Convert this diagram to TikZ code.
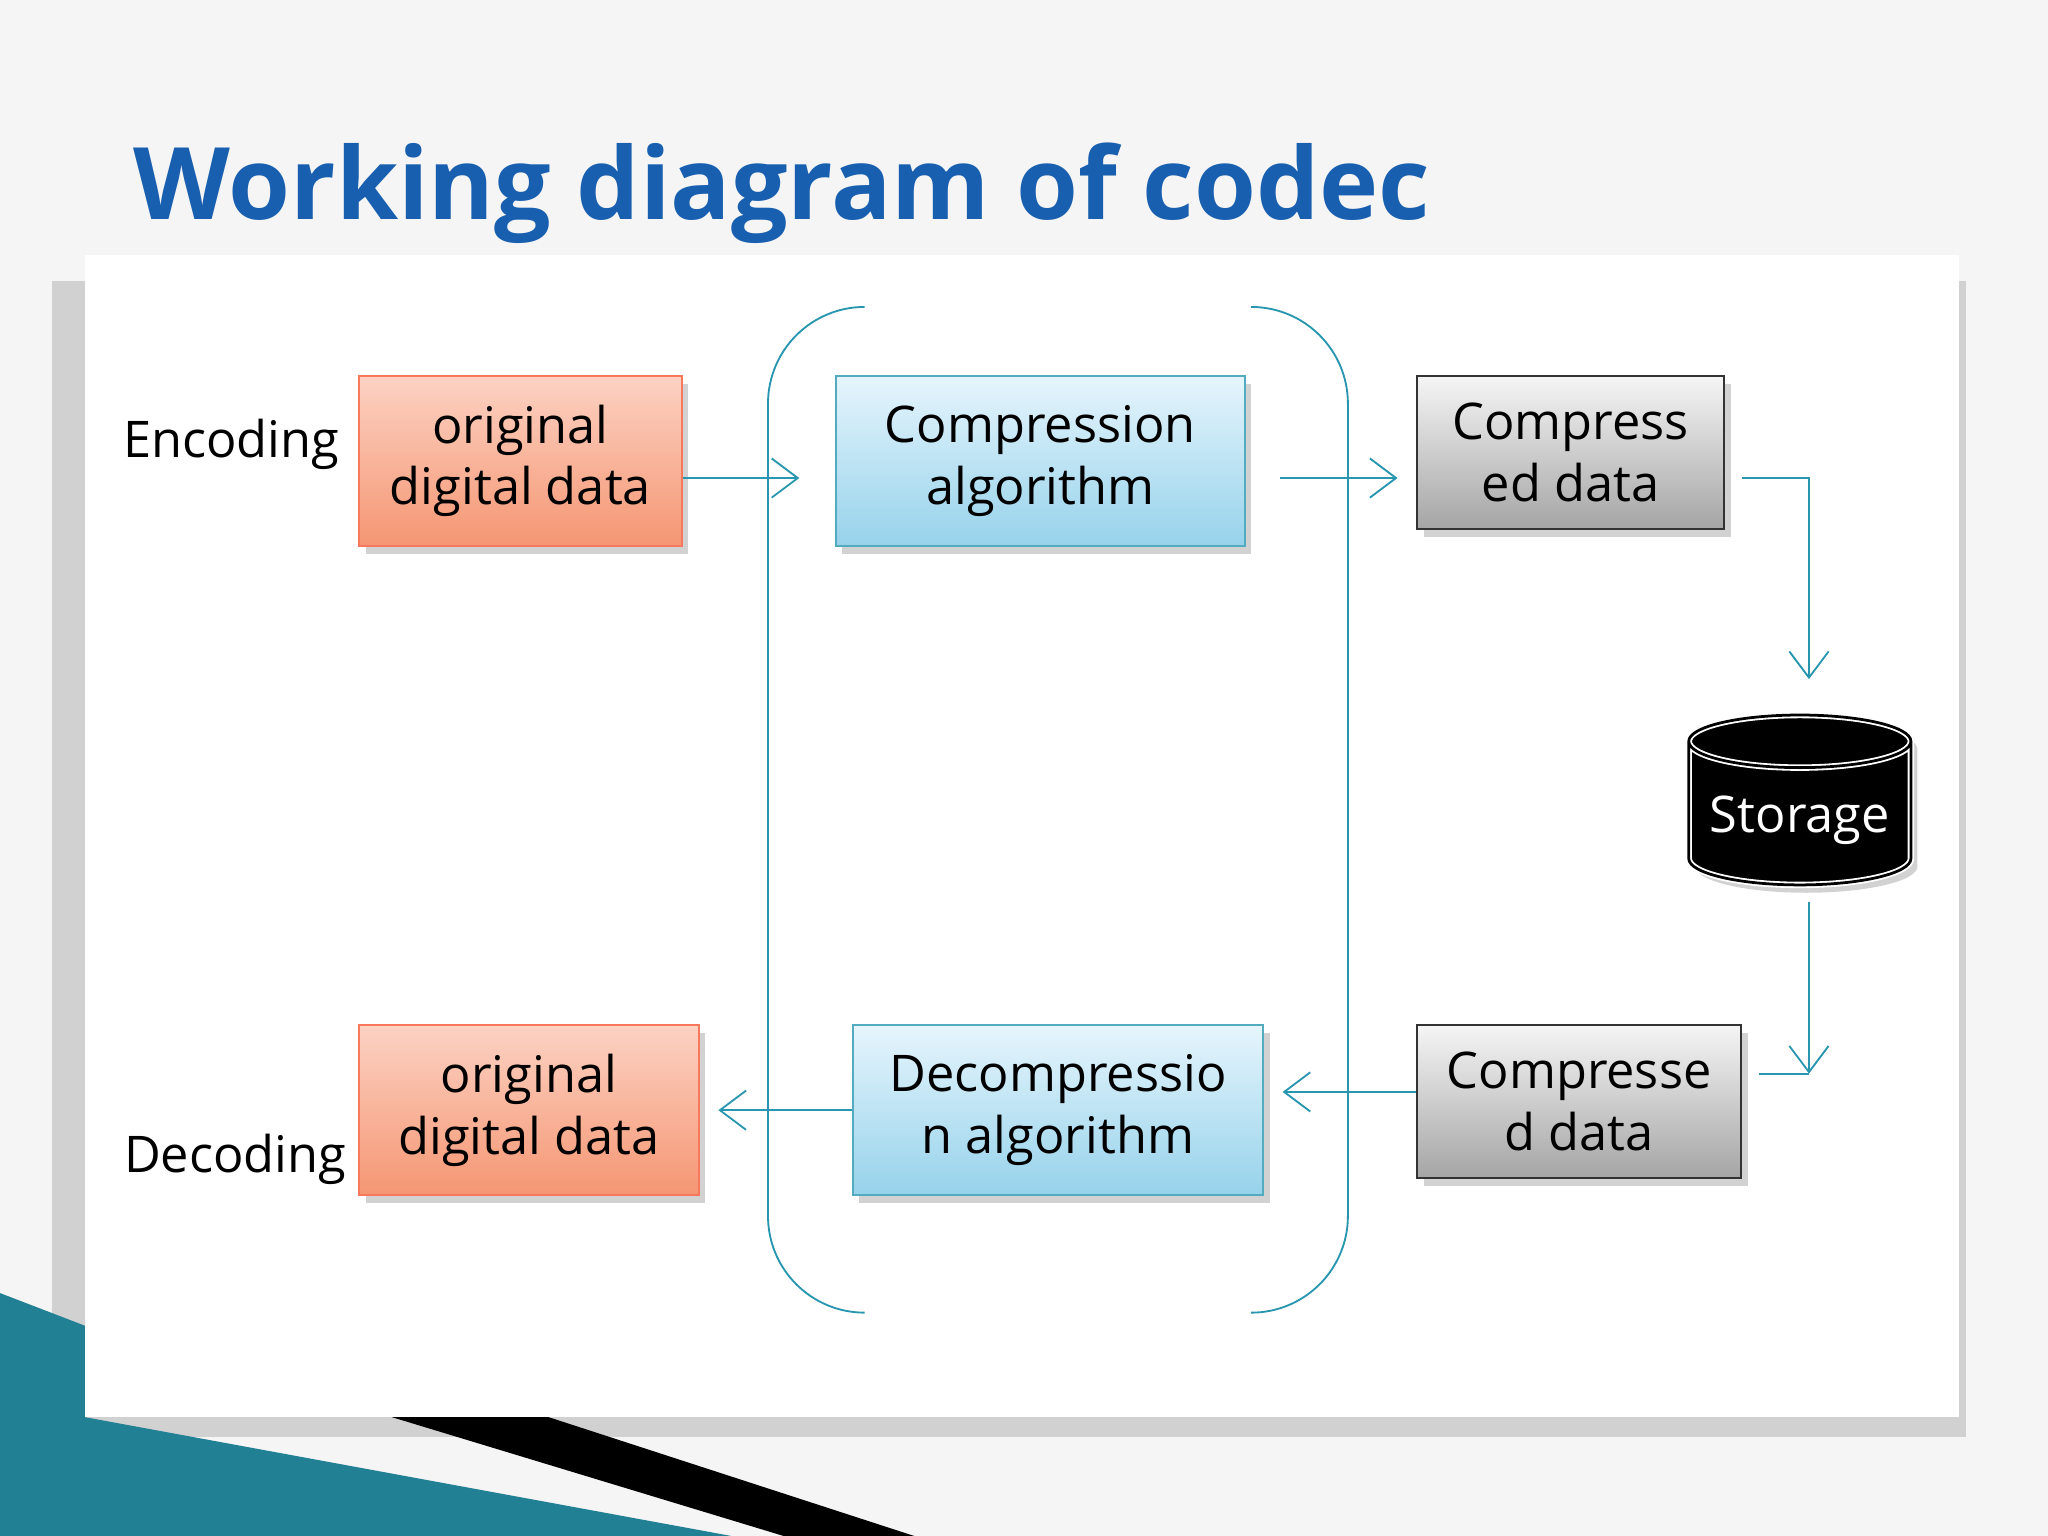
\documentclass[tikz,border=0pt]{standalone}
\usepackage{fontspec}
\setmainfont{Open Sans}
\usetikzlibrary{positioning,arrows.meta,shapes.geometric,shadows}
\definecolor{lineteal}{RGB}{40,150,175}
\definecolor{salmonA}{RGB}{252,210,195}
\definecolor{salmonB}{RGB}{245,150,115}
\definecolor{blueA}{RGB}{230,245,252}
\definecolor{blueB}{RGB}{150,210,235}
\definecolor{grayA}{RGB}{245,245,245}
\definecolor{grayB}{RGB}{165,165,165}
\definecolor{titleblue}{RGB}{25,95,175}
\tikzset{
    block/.style={%
        draw, minimum height=13mm,
        align=center, font=\fontsize{11}{13.4}\selectfont,
        drop shadow={shadow xshift=0.5mm, shadow yshift=-0.6mm, opacity=0.35}
        },
    origbox/.style={block, draw=salmonB!80!red, top color=salmonA, bottom color=salmonB},
    algbox/.style={block, draw=lineteal!80, top color=blueA, bottom color=blueB},
    databox/.style={block, draw=black!80, top color=grayA, bottom color=grayB, minimum height=11.7mm},
    flow/.style={draw=lineteal, -{Straight Barb[length=2mm,width=3mm]}},
    >=LaTeX
}
\begin{document}
\begin{tikzpicture}[x=0.01cm, y=-0.01cm]
\useasboundingbox (0,0) rectangle (1568,1176);
\fill[black!4] (0,0) rectangle (1568,1176);

% slide decoration
\fill[black!18] (40,215) rectangle (1505,1100);
\fill[lineteal!85!black] (0,990) -- (65,1015) -- (65,1085) -- (560,1176) -- (0,1176) -- cycle;
\fill[black] (300,1085) -- (420,1085) -- (700,1176) -- (600,1176) -- cycle;
\fill[white] (65,195) rectangle (1500,1085);

\node[anchor=base west, font=\fontsize{21.8}{24}\selectfont\bfseries, text=titleblue] (title) at (90,168) {Working diagram of codec};

\node[origbox, minimum width=24.7mm] (orig1) at (398.5,353) {original\\digital data};
\node[algbox, minimum width=31.3mm] (compalg) at (796.5,353) {Compression\\algorithm};
\node[databox, minimum width=23.5mm] (comp1) at (1202.5,346.5) {Compress\\ed data};
\node[cylinder, shape border rotate=90, aspect=0.25, minimum width=17mm, minimum height=13mm,
      draw=white, double=black, double distance=0.6pt, fill=black, text=white,
      font=\fontsize{11}{13.4}\selectfont,
      drop shadow={shadow xshift=0.5mm, shadow yshift=-0.6mm, opacity=0.35}] (storage) at (1378,628) {Storage};
\node[databox, minimum width=24.8mm] (comp2) at (1209,843.5) {Compresse\\d data};
\node[algbox, minimum width=31.4mm] (decompalg) at (810,850) {Decompressio\\n algorithm};
\node[origbox, minimum width=26mm] (orig2) at (405,850) {original\\digital data};

\node[font=\fontsize{11}{13.4}\selectfont] (enc) at (177,340) {Encoding};
\node[font=\fontsize{11}{13.4}\selectfont] (dec) at (180,888) {Decoding};

% brackets
\draw[lineteal, thin, rounded corners=7.4mm] (662,235) -- (588,235) -- (588,1005) -- (662,1005);
\draw[lineteal, thin, rounded corners=7.4mm] (958,235) -- (1032,235) -- (1032,1005) -- (958,1005);

% connectors
\coordinate (a1) at (612,366);
\coordinate (a2) at (980,366);
\coordinate (a3) at (1070,366);
\coordinate (a4) at (1385,520);
\coordinate (a5) at (1385,822);
\coordinate (a6) at (982,836);
\coordinate (a7) at (550,850);
\draw[flow] (orig1.east |- a1) -- (a1);
\draw[flow] (a2) -- (a3);
\draw[flow] ([xshift=1.3mm]comp1.east |- a1) -| (a4);
\draw[flow] ([yshift=-1.2mm]storage.south -| a5) -- (a5);
\draw[lineteal] ([xshift=1.3mm]comp2.east |- a5) -- (a5);
\draw[flow] (comp2.west |- a6) -- (a6);
\draw[flow] (decompalg.west) -- (a7);

\end{tikzpicture}
\end{document}
